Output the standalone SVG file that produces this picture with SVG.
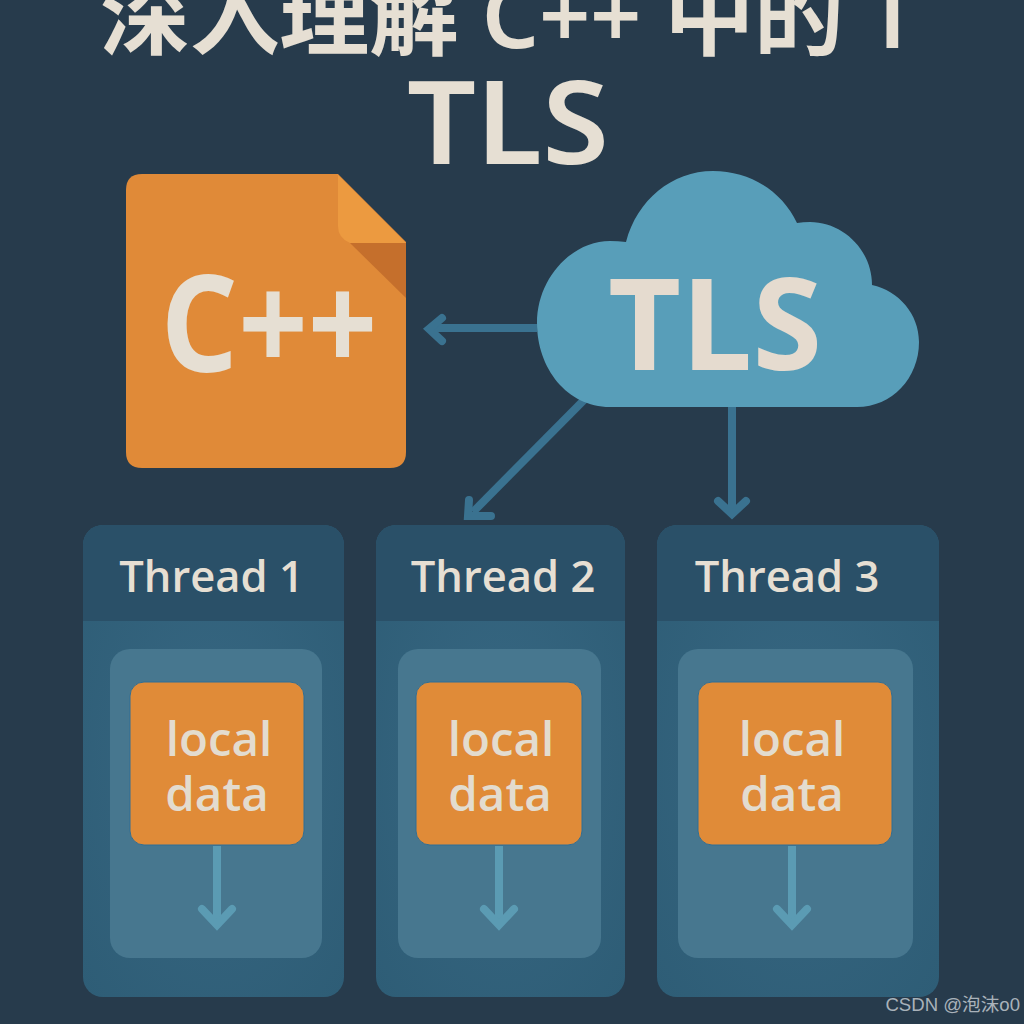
<svg xmlns="http://www.w3.org/2000/svg" width="1024" height="1024" viewBox="0 0 1024 1024">
<defs>
<radialGradient id="panel" cx="50%" cy="50%" r="70%"><stop offset="0" stop-color="#376782"/><stop offset="1" stop-color="#2e5d76"/></radialGradient>
<clipPath id="c1"><rect x="83" y="525" width="261" height="472" rx="20"/></clipPath>
<clipPath id="c2"><rect x="376" y="525" width="249" height="472" rx="20"/></clipPath>
<clipPath id="c3"><rect x="657" y="525" width="282" height="472" rx="20"/></clipPath>
</defs>
<style>
.t{fill:#e6dfd3;font-family:"Open Sans","Noto Sans","Noto Sans CJK SC",sans-serif;text-anchor:middle}
.title{font-weight:600;font-family:"Noto Sans","Noto Sans CJK SC",sans-serif}
.head{font-size:43.5px;font-weight:600}
.ld{font-size:47.5px;font-weight:600;fill:#e3dccf}
.hd{fill:#2a5068}
.body{fill:url(#panel)}
.in{fill:#47778f}
.box{fill:#e08b38;stroke:#2f6f96;stroke-width:1}
.arr{fill:none;stroke:#3a7290;stroke-width:8;stroke-linejoin:miter}
.arr2{fill:none;stroke:#5b9bb3;stroke-width:8;stroke-linecap:round}
.arr2s{fill:none;stroke:#5b9bb3;stroke-width:8}
</style>
<rect width="1024" height="1024" fill="#273b4c"/>
<g id="title">
<text class="t title" x="509" y="48" font-size="90" textLength="818" lengthAdjust="spacing" xml:space="preserve">深入理解 C++ 中的 T</text>
<text class="t title" x="508" y="164" font-size="116" textLength="202" lengthAdjust="spacingAndGlyphs">TLS</text>
</g>
<g id="connectors">
<path class="arr" d="M537 328H430"/>
<path class="arr" stroke-linecap="round" d="M442 318L429 329L442 341"/>
<path class="arr" d="M586 398L473 512"/>
<path class="arr" stroke-linecap="round" d="M469 500L468 516L491 516"/>
<path class="arr" d="M732 405V514"/>
<path class="arr" stroke-linecap="round" d="M718 501L732 514L746 501"/>
</g>
<g id="cpp-file">
<path d="M142 174H338L406 242V452Q406 468 390 468H142Q126 468 126 452V190Q126 174 142 174Z" fill="#e08a38"/>
<path d="M350 243H406V298Z" fill="#c56f2c"/>
<path d="M338 175L406 243H350Q338 238 338 226Z" fill="#ec9a40"/>
<text class="t" x="269" y="372" font-size="134" font-weight="700" textLength="217" lengthAdjust="spacingAndGlyphs">C++</text>
</g>
<g id="tls-cloud">
<path d="M610 407C567 407 537 368 537 323C537 278 572 241 610 241Q618 241 626 242C637 200 672 171 713 171C750 171 782 191 797 223Q803 222 810 222C843 222 872 250 872 285C899 291 919 314 919 342C919 378 892 407 857 407Z" fill="#589eb9"/>
<text class="t" x="715" y="370" font-size="127" font-weight="700" textLength="214" lengthAdjust="spacingAndGlyphs" style="fill:#e5dbcf">TLS</text>
</g>
<g id="thread-1">
<rect class="body" x="83" y="525" width="261" height="472" rx="20"/>
<rect class="hd" x="83" y="525" width="261" height="96" clip-path="url(#c1)"/>
<text class="t head" x="211.5" y="592">Thread 1</text>
<rect class="in" x="110" y="649" width="212" height="309" rx="20"/>
<rect class="box" x="130" y="682" width="174" height="163" rx="14"/>
<text class="t ld" x="219" y="756">local</text>
<text class="t ld" x="217" y="811">data</text>
<path class="arr2s" d="M217 846V925"/>
<path class="arr2" d="M202 909L217 925L232 909"/>
</g>
<g id="thread-2">
<rect class="body" x="376" y="525" width="249" height="472" rx="20"/>
<rect class="hd" x="376" y="525" width="249" height="96" clip-path="url(#c2)"/>
<text class="t head" x="503" y="592">Thread 2</text>
<rect class="in" x="398" y="649" width="203" height="309" rx="20"/>
<rect class="box" x="416" y="682" width="166" height="163" rx="14"/>
<text class="t ld" x="501" y="756">local</text>
<text class="t ld" x="500" y="811">data</text>
<path class="arr2s" d="M499 846V925"/>
<path class="arr2" d="M484 909L499 925L514 909"/>
</g>
<g id="thread-3">
<rect class="body" x="657" y="525" width="282" height="472" rx="20"/>
<rect class="hd" x="657" y="525" width="282" height="96" clip-path="url(#c3)"/>
<text class="t head" x="787" y="592">Thread 3</text>
<rect class="in" x="678" y="649" width="235" height="309" rx="20"/>
<rect class="box" x="698" y="682" width="194" height="163" rx="14"/>
<text class="t ld" x="792" y="756">local</text>
<text class="t ld" x="792" y="811">data</text>
<path class="arr2s" d="M792 846V925"/>
<path class="arr2" d="M777 909L792 925L807 909"/>
</g>
<text id="watermark" x="1020" y="1011" text-anchor="end" font-size="18.6" fill="#a9b2ba" font-family="'Liberation Sans','Noto Sans CJK SC',sans-serif">CSDN @泡沫o0</text>
</svg>
